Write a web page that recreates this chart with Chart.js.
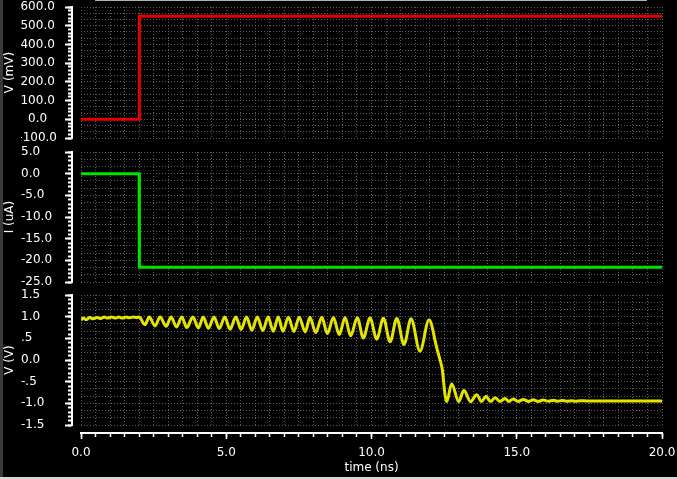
<!DOCTYPE html>
<html>
<head>
<meta charset="utf-8">
<script src="https://cdn.jsdelivr.net/npm/chart.js@4.4.1/dist/chart.umd.min.js"></script>
<style>
  html, body { margin: 0; padding: 0; background: #000; }
  #wrap { position: relative; width: 677px; height: 479px; background: #000; overflow: hidden; }
  #wrap canvas { position: absolute; left: 0; top: 0; }
  #edgeLeft { position: absolute; left: 0; top: 0; width: 3px; height: 479px; background: #3a3a3a; }
  #edgeTop { position: absolute; left: 95px; top: 0; width: 552px; height: 1px; background: #b0b0b0; }
  #edgeBottom { position: absolute; left: 0; top: 477px; width: 677px; height: 2px; background: #d8d8d8; }
</style>
</head>
<body>
<div id="wrap">
  <canvas id="vin" width="677" height="479"></canvas>
  <canvas id="iin" width="677" height="479"></canvas>
  <canvas id="vout" width="677" height="479"></canvas>
  <div id="edgeLeft"></div>
  <div id="edgeTop"></div>
  <div id="edgeBottom"></div>
</div>
<script>
// time axis (ns)
const timeTicks = [0, 5, 10, 15, 20];
const timeLabels = ['0.0', '5.0', '10.0', '15.0', '20.0'];

// top panel: V (mV)
const vinTicks = [-100, 0, 100, 200, 300, 400, 500, 600];
const vinLabels = ['-100.0', '0.0', '100.0', '200.0', '300.0', '400.0', '500.0', '600.0'];
const vinT = [0, 2, 2.01, 20];
const vinV = [0, 0, 550, 550];

// middle panel: I (uA)
const iinTicks = [-25, -20, -15, -10, -5, 0, 5];
const iinLabels = ['-25.0', '-20.0', '-15.0', '-10.0', '-5.0', '0.0', '5.0'];
const iinT = [0, 2, 2.01, 20];
const iinV = [0, 0, -21.6, -21.6];

// bottom panel: V (V), peaks and troughs
const voutTicks = [-1.5, -1, -0.5, 0, 0.5, 1, 1.5];
const voutLabels = ['-1.5', '-1.0', '-.5', '0.0', '.5', '1.0', '1.5'];
const voutT = [
  0, 0.08, 0.18, 0.3, 0.42, 0.55, 0.68, 0.8, 0.92, 1.05, 1.18, 1.3, 1.42, 1.55, 1.68, 1.8, 1.92, 2.0,
  2.2, 2.35, 2.55, 2.72, 2.93, 3.1, 3.29, 3.47, 3.64, 3.85, 4.04, 4.21, 4.38, 4.58, 4.76, 4.95,
  5.13, 5.33, 5.51, 5.7, 5.88, 6.07, 6.26, 6.44, 6.62, 6.79, 6.95, 7.14, 7.33, 7.51, 7.72, 7.88,
  8.08, 8.29, 8.48, 8.69, 8.89, 9.09, 9.28, 9.51, 9.72, 9.95, 10.18, 10.41, 10.64, 10.87, 11.12, 11.36,
  11.67, 11.98, 12.25, 12.36, 12.44, 12.53, 12.59,
  12.76, 13.0, 13.18, 13.41, 13.62, 13.79, 13.94, 14.1, 14.25, 14.42, 14.6, 14.73, 14.88, 15.05,
  15.23, 15.4, 15.57, 15.74, 15.91, 16.09, 16.26, 16.4, 16.55, 16.72, 16.89, 17.04, 17.18, 17.4, 20
];
const voutV = [
  0.92, 0.97, 0.93, 0.98, 0.95, 0.98, 0.96, 0.99, 0.97, 0.99, 0.97, 0.99, 0.97, 0.99, 0.975, 0.99, 0.98, 0.99,
  0.817, 0.99, 0.786, 0.99, 0.778, 0.99, 0.763, 0.99, 0.748, 0.99, 0.74, 0.99, 0.732, 0.99, 0.725, 0.99,
  0.709, 0.99, 0.705, 0.99, 0.686, 0.99, 0.679, 0.99, 0.664, 0.99, 0.664, 0.985, 0.66, 0.985, 0.649, 0.985,
  0.633, 0.985, 0.61, 0.98, 0.587, 0.98, 0.557, 0.975, 0.51, 0.97, 0.48, 0.965, 0.42, 0.96, 0.358, 0.95,
  0.204, 0.93, 0.27, 0.0, -0.23, -0.8, -0.96,
  -0.55, -0.96, -0.7, -0.96, -0.8, -0.96, -0.835, -0.96, -0.87, -0.955, -0.89, -0.955, -0.9, -0.955,
  -0.91, -0.955, -0.92, -0.955, -0.925, -0.952, -0.93, -0.952, -0.935, -0.95, -0.938, -0.95, -0.94, -0.945, -0.945
];

Chart.defaults.font.family = "'DejaVu Sans', sans-serif";
Chart.defaults.font.size = 12;
Chart.defaults.color = '#ffffff';

const gridColor = '#5c5c5c';

function evenTicks(min, max, n) {
  const out = [];
  for (let i = 0; i <= n; i++) out.push({ value: min + (max - min) * i / n });
  return out;
}

function toPoints(xs, ys) {
  return xs.map((x, i) => ({ x: x, y: ys[i] }));
}

// fixed box sizes, and no extra room for label overhang
function fixWidth(w) {
  return s => { s.width = w; s.paddingTop = 0; s.paddingBottom = 0; };
}
function fixHeight(h) {
  return s => { s.height = h; s.paddingLeft = 0; s.paddingRight = 0; };
}

function yScales(p) {
  return {
    yTitle: {
      position: 'left', weight: 3, min: p.min, max: p.max,
      afterFit: fixWidth(21),
      ticks: { display: false },
      grid: { display: false },
      border: { display: false },
      title: { display: true, text: p.title, color: '#fff', padding: { top: 3, bottom: 0 } }
    },
    y: {
      position: 'left', weight: 2, min: p.min, max: p.max,
      afterFit: fixWidth(51),
      afterBuildTicks: s => { s.ticks = p.ticks.map(v => ({ value: v })); },
      ticks: { autoSkip: false, color: '#fff', crossAlign: p.align, padding: 8,
               callback: (v, i) => p.labels[i] },
      grid: { drawOnChartArea: false, tickLength: 7, tickColor: '#fff', tickWidth: 2 },
      border: { display: true, color: '#fff', width: 2 }
    },
    yMinor: {
      position: 'left', weight: 1, min: p.min, max: p.max,
      afterFit: fixWidth(0),
      afterBuildTicks: s => { s.ticks = evenTicks(p.min, p.max, p.minorN); },
      ticks: { display: false },
      grid: { drawOnChartArea: false, tickLength: 4, tickColor: '#fff', tickWidth: 2 },
      border: { display: false }
    },
    yGrid: {
      position: 'left', weight: 0, min: p.min, max: p.max,
      afterFit: fixWidth(9),
      afterBuildTicks: s => { s.ticks = evenTicks(p.min, p.max, p.gridN); },
      ticks: { display: false },
      grid: { color: gridColor, lineWidth: 1, drawTicks: false },
      border: { display: false, dash: [1, 2] }
    }
  };
}

function timeGrid(h) {
  return {
    type: 'linear', position: 'bottom', weight: 0, min: 0, max: 20,
    afterFit: fixHeight(h),
    afterBuildTicks: s => { s.ticks = evenTicks(0, 20, 40); },
    ticks: { display: false },
    grid: { color: gridColor, lineWidth: 1, drawTicks: false },
    border: { display: false, dash: [1, 2] }
  };
}

function makePanel(id, p) {
  const scales = yScales(p);
  if (p.timeAxis) {
    scales.xGrid = timeGrid(8);
    scales.xMinor = {
      type: 'linear', position: 'bottom', weight: 1, min: 0, max: 20,
      afterFit: fixHeight(0),
      afterBuildTicks: s => { s.ticks = evenTicks(0, 20, 40); },
      ticks: { display: false },
      grid: { drawOnChartArea: false, tickLength: 4, tickColor: '#fff', tickWidth: 1.5 },
      border: { display: false }
    };
    scales.x = {
      type: 'linear', position: 'bottom', weight: 2, min: 0, max: 20,
      afterFit: fixHeight(46),
      afterBuildTicks: s => { s.ticks = timeTicks.map(v => ({ value: v })); },
      ticks: { autoSkip: false, maxRotation: 0, color: '#fff', padding: 7,
               callback: (v, i) => timeLabels[i] },
      grid: { drawOnChartArea: false, tickLength: 6, tickColor: '#fff', tickWidth: 1.5 },
      border: { display: true, color: '#fff', width: 2 },
      title: { display: true, text: 'time (ns)', color: '#fff', padding: { top: 0, bottom: 4 } }
    };
  } else {
    scales.x = timeGrid(0);
  }

  return new Chart(document.getElementById(id), {
    type: 'line',
    data: {
      datasets: [{
        data: toPoints(p.t, p.v),
        xAxisID: 'x',
        yAxisID: 'y',
        borderColor: p.color,
        borderWidth: 3,
        pointRadius: 0,
        fill: false,
        tension: 0,
        cubicInterpolationMode: p.smooth ? 'monotone' : 'default',
        borderJoinStyle: 'miter'
      }]
    },
    options: {
      responsive: false,
      animation: false,
      events: [],
      layout: { padding: { left: 0, right: 15, top: p.top, bottom: p.bottom } },
      plugins: { legend: { display: false }, tooltip: { enabled: false } },
      scales: scales
    }
  });
}

makePanel('vin', {
  t: vinT, v: vinV, color: '#e40000', title: 'V (mV)',
  min: -100, max: 600, ticks: vinTicks, labels: vinLabels, align: 'center',
  minorN: 35, gridN: 21, top: 7, bottom: 341
});

makePanel('iin', {
  t: iinT, v: iinV, color: '#00e400', title: 'I (uA)',
  min: -25, max: 5, ticks: iinTicks, labels: iinLabels, align: 'far',
  minorN: 30, gridN: 18, top: 152, bottom: 197
});

makePanel('vout', {
  t: voutT, v: voutV, color: '#e4e400', title: 'V (V)', smooth: true,
  min: -1.5, max: 1.5, ticks: voutTicks, labels: voutLabels, align: 'far',
  minorN: 30, gridN: 18, top: 295, bottom: 0, timeAxis: true
});
</script>
</body>
</html>
